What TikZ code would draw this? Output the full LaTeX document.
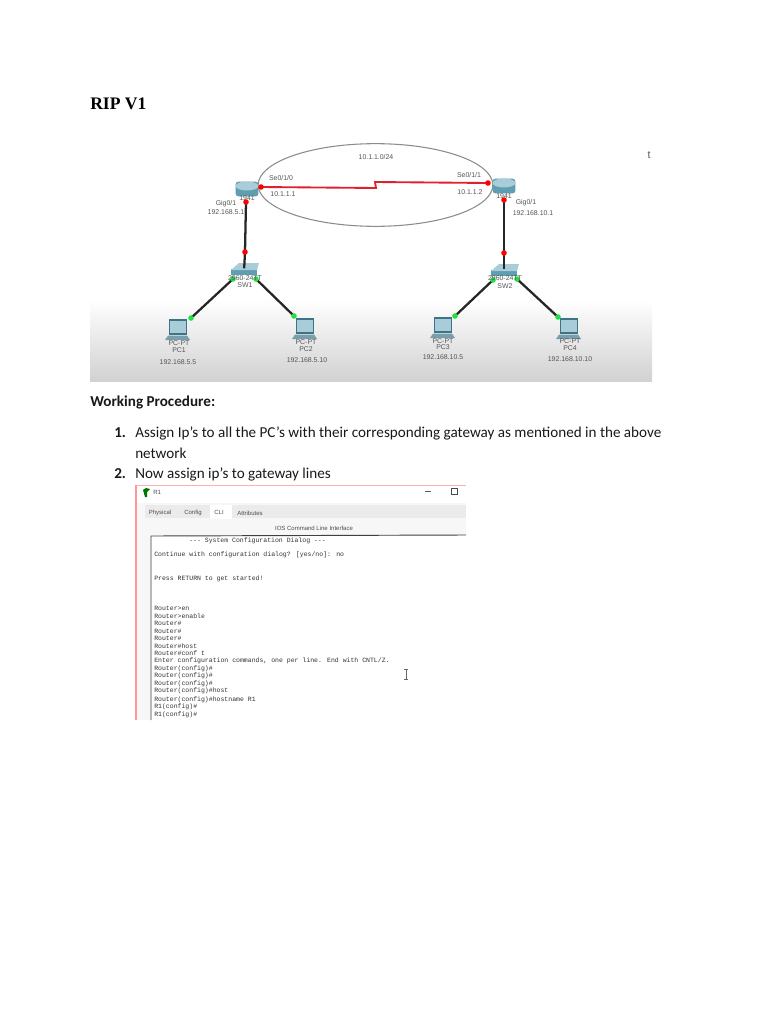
\documentclass[tikz,border=0pt]{standalone}
\usepackage{fontspec}
\setmainfont{Carlito}
\newfontfamily\titlefont{Liberation Serif}
\newfontfamily\labelfont{Liberation Sans}
\newfontfamily\clifont{Liberation Mono}
\usetikzlibrary{shapes.geometric}
\definecolor{devteal}{HTML}{5F9DB0}
\definecolor{devlight}{HTML}{A9CDD8}
\definecolor{devdark}{HTML}{3F7488}
\definecolor{labelgray}{HTML}{555555}
\definecolor{linkred}{HTML}{E0202E}
\definecolor{dotgreen}{HTML}{22E040}
\tikzset{
  x=0.75pt,y=-0.75pt,
  bodytext/.style={anchor=west,inner sep=0pt,font=\fontsize{11.35}{13}\selectfont,text=black!90},
  boldtext/.style={bodytext,font=\fontsize{11.35}{13}\selectfont\bfseries},
  lab/.style={inner sep=0pt,font=\labelfont\fontsize{5.2}{6}\selectfont,text=labelgray},
  lablarge/.style={inner sep=0pt,font=\labelfont\fontsize{5.2}{6}\selectfont,text=labelgray},
  cli/.style={anchor=west,inner sep=0pt,font=\clifont\fontsize{4.875}{5}\selectfont,text=black!80},
  tab/.style={inner sep=0pt,font=\labelfont\fontsize{4.5}{5}\selectfont,text=black!70},
  routerbody/.style={draw=none,fill=devteal,rounded corners=2pt,minimum width=17pt,minimum height=11pt,inner sep=0pt},
  switchbody/.style={draw=none,fill=devteal,minimum width=19pt,minimum height=5pt,inner sep=0pt},
  pcbody/.style={draw=devdark,fill=devlight,line width=1pt,minimum width=13pt,minimum height=10.5pt,inner sep=0pt},
  cable/.style={line width=1.7pt,black!85},
  serial/.style={line width=1.4pt,linkred},
}
\newcommand{\routertop}[2]{\fill[devlight] (#1,#2-3) ellipse (11.5 and 4.5);}
\newcommand{\switchtop}[2]{\fill[devlight] (#1-13,#2-2) -- (#1-5,#2-9) -- (#1+15,#2-9) -- (#1+13,#2-2) -- cycle;}
\newcommand{\pcbase}[2]{\fill[devdark!70] (#1-10,#2+8.5) -- (#1+9,#2+8.5) -- (#1+12,#2+13) -- (#1-13,#2+13) -- cycle;}
\begin{document}
\begin{tikzpicture}
\useasboundingbox (0,0) rectangle (768,1024);
\fill[white] (0,0) rectangle (768,1024);
% heading
\node[anchor=west,inner sep=0pt,font=\titlefont\fontsize{13.2}{15}\selectfont\bfseries] (title) at (90,104) {RIP V1};
% network picture background
\shade[top color=white,bottom color=black!18] (90,300) rectangle (652,381);
% cloud ellipse
\node[ellipse,draw=black!45,line width=0.8pt,minimum width=176pt,minimum height=62pt,inner sep=0pt] (cloud) at (375.5,185) {};
% devices
\node[routerbody] (r1) at (247,189) {}; \routertop{247}{189}
\node[routerbody] (r2) at (504,186) {}; \routertop{504}{186}
\node[switchbody] (sw1) at (244,272) {}; \switchtop{244}{272}
\node[switchbody] (sw2) at (504,273) {}; \switchtop{504}{273}
\node[pcbody] (pc1) at (178,327) {}; \pcbase{178}{327}
\node[pcbody] (pc2) at (305,326) {}; \pcbase{305}{326}
\node[pcbody] (pc3) at (443,325) {}; \pcbase{443}{325}
\node[pcbody] (pc4) at (569,326) {}; \pcbase{569}{326}
% connection points
\coordinate (d1) at (261,187);
\coordinate (d2) at (488,183);
\coordinate (d3) at (246,202);
\coordinate (d4) at (245,252);
\coordinate (d5) at (504,200);
\coordinate (d6) at (504,253);
\coordinate (g1) at (233,279);
\coordinate (g2) at (256,279);
\coordinate (g3) at (191,318);
\coordinate (g4) at (294,316);
\coordinate (g5) at (493,280);
\coordinate (g6) at (517,279);
\coordinate (g7) at (455,316);
\coordinate (g8) at (558,317);
% connectors
\draw[serial] (d1) -- (376,188) -- (375,182) -- (d2);
\draw[cable] (d3) -- (d4) -- (sw1);
\draw[cable] (d5) -- (d6) -- (sw2);
\draw[cable] (g1) -- (g3);
\draw[cable] (g2) -- (g4);
\draw[cable] (g5) -- (g7);
\draw[cable] (g6) -- (g8);
% dots above cables
\foreach \n/\c in {d1/red,d2/red,d3/red,d4/red,d5/red,d6/red,g1/dotgreen,g2/dotgreen,g3/dotgreen,g4/dotgreen,g5/dotgreen,g6/dotgreen,g7/dotgreen,g8/dotgreen}
  \fill[\c] (\n) circle (2.8);
% labels
\node[lab] (l1) at (376,157) {10.1.1.0/24};
\node[lab] (l2) at (281,178) {Se0/1/0};
\node[lab] (l3) at (283,194) {10.1.1.1};
\node[lab] (l4) at (469,175) {Se0/1/1};
\node[lab] (l5) at (470,192) {10.1.1.2};
\node[lab] (l6) at (247,198) {1941};
\node[lab] (l7) at (504,196) {1941};
\node[lablarge] (l8) at (226,204) {Gig0/1};
\node[lab] (l9) at (226,212) {192.168.5.1};
\node[lablarge] (l10) at (526,203) {Gig0/1};
\node[lab] (l11) at (533,213) {192.168.10.1};
\node[lab] (l12) at (245,278) {2960-24TT};
\node[lablarge] (l13) at (245,285) {SW1};
\node[lab] (l14) at (505,278) {2960-24TT};
\node[lablarge] (l15) at (505,286) {SW2};
\node[lablarge] (l16) at (179,343) {PC-PT};
\node[lablarge] (l17) at (179,350) {PC1};
\node[lab] (l18) at (178,362) {192.168.5.5};
\node[lablarge] (l19) at (306,342) {PC-PT};
\node[lablarge] (l20) at (306,349) {PC2};
\node[lab] (l21) at (307,360) {192.168.5.10};
\node[lablarge] (l22) at (443,341) {PC-PT};
\node[lablarge] (l23) at (443,347) {PC3};
\node[lab] (l24) at (443,357) {192.168.10.5};
\node[lablarge] (l25) at (570,341) {PC-PT};
\node[lablarge] (l26) at (570,348) {PC4};
\node[lab] (l27) at (570,359) {192.168.10.10};
\node[inner sep=0pt,font=\labelfont\fontsize{8}{9}\selectfont,text=black!65] (mark) at (649,155) {t};
% text
\node[boldtext] (wp) at (90,402.5) {Working Procedure:};
\node[boldtext] (n1) at (114,432.5) {1.};
\node[bodytext] (t1) at (135,433.5) {Assign Ip’s to all the PC’s with their corresponding gateway as mentioned in the above};
\node[bodytext] (t1b) at (135,453.5) {network};
\node[boldtext] (n2) at (114,473.5) {2.};
\node[bodytext] (t2) at (135,474.5) {Now assign ip’s to gateway lines};
% CLI window
\fill[black!3] (137,503) rectangle (466,720);
\fill[black!8] (145,505) rectangle (466,518);
\fill[white] (210,505) rectangle (232,519);
\fill[white] (151,535) rectangle (466,720);
\draw[draw=red!30!white,line width=0.6pt] (136,485) -- (466,485);
\draw[draw=red!40!white,line width=0.9pt] (136,485) -- (136,720);
\draw[black!75,line width=0.7pt] (466,535) -- (151,536) -- (151,720);
\fill[green!45!black] (143,490) -- (146,488) -- (150,489) -- (147,492) -- (147,497) -- (145,497) -- cycle;
\node[tab,anchor=west] (wt) at (153,492) {R1};
\draw[black!65,line width=0.6pt] (425,491.5) -- (431,491.5);
\node[draw=black!70,line width=0.5pt,minimum size=4.5pt,inner sep=0pt] (wmax) at (454,491.5) {};
\node[tab] (tb1) at (160,513) {Physical};
\node[tab] (tb2) at (193,513) {Config};
\node[tab] (tb3) at (219,512.5) {CLI};
\node[tab] (tb4) at (250,513) {Attributes};
\node[tab] (iosh) at (314,528) {IOS Command Line Interface};
\node[cli] (c1) at (189,540.5) {--- System Configuration Dialog ---};
\node[cli] (c2) at (154,555) {Continue with configuration dialog? [yes/no]: no};
\node[cli] (c3) at (154,579) {Press RETURN to get started!};
\node[cli] (c4) at (154,608.5) {Router>en};
\node[cli] (c5) at (154,616) {Router>enable};
\node[cli] (c6) at (154,623.5) {Router\#};
\node[cli] (c7) at (154,631) {Router\#};
\node[cli] (c8) at (154,638.5) {Router\#};
\node[cli] (c9) at (154,646) {Router\#host};
\node[cli] (c10) at (154,653.5) {Router\#conf t};
\node[cli] (c11) at (154,661) {Enter configuration commands, one per line.  End with CNTL/Z.};
\node[cli] (c12) at (154,668.5) {Router(config)\#};
\node[cli] (c13) at (154,676) {Router(config)\#};
\node[cli] (c14) at (154,683.5) {Router(config)\#};
\node[cli] (c15) at (154,691) {Router(config)\#host};
\node[cli] (c16) at (154,699.5) {Router(config)\#hostname R1};
\node[cli] (c17) at (154,706.5) {R1(config)\#};
\node[cli] (c18) at (154,714.5) {R1(config)\#};
% text cursor
\draw[black!60,line width=0.6pt] (406,669) -- (406,679) (404,669) -- (408,669) (404,679) -- (408,679);
\end{tikzpicture}
\end{document}
